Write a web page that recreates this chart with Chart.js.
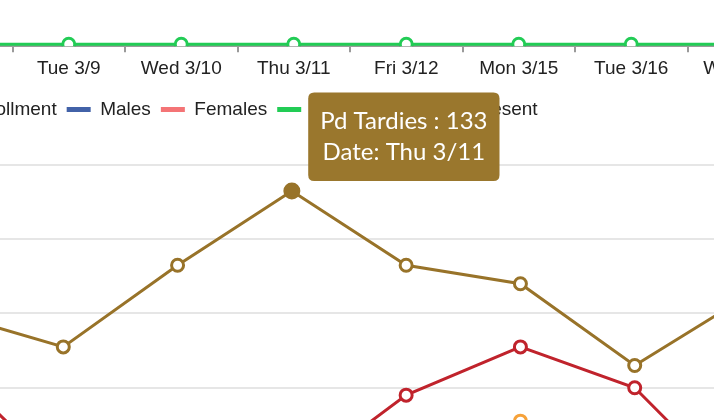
<!DOCTYPE html>
<html>
<head>
<meta charset="utf-8">
<script src="https://cdn.jsdelivr.net/npm/chart.js@4.4.1/dist/chart.umd.min.js"></script>
<style>
  html, body { margin: 0; padding: 0; background: #fff; overflow: hidden; }
  #page { position: relative; width: 714px; height: 420px; overflow: hidden; }
  #countsChart { position: absolute; left: -340px; top: -298px; }
  #tardyChart { position: absolute; left: -101px; top: 88px; }
</style>
</head>
<body>
<div id="page">
  <canvas id="countsChart" width="1150" height="427"></canvas>
  <canvas id="tardyChart" width="900" height="485"></canvas>
</div>
<script>
const days = ["Mon 3/8", "Tue 3/9", "Wed 3/10", "Thu 3/11", "Fri 3/12", "Mon 3/15", "Tue 3/16", "Wed 3/17"];

// daily counts (top chart) - only the flat green line shows in the crop
const enrollment = [612, 612, 613, 613, 613, 614, 614, 614];
const males = [311, 311, 312, 312, 312, 312, 312, 312];
const females = [301, 301, 301, 301, 301, 302, 302, 302];
const absent = [4, 4, 4, 4, 4, 4, 4, 4];
const virtualPresent = [248, 252, 245, 250, 239, 255, 247, 244];

// tardies / absences (bottom chart)
const pdTardies = [100, 91, 113, 133, 113, 108, 86, 105];
const pdAbsences = [86, 56, 60, 55, 78, 91, 80, 49];
const dailyTardies = [58, 52, 61, 64, 60, 71, 62, 55];

Chart.defaults.font.family = "'Liberation Sans', Arial, sans-serif";
Chart.defaults.font.size = 19;
Chart.defaults.color = "#222";

function lineSet(label, data, color) {
    return {
        label: label,
        data: data,
        borderColor: color,
        backgroundColor: color,
        borderWidth: 3,
        pointRadius: 6,
        pointBorderWidth: 3,
        pointBackgroundColor: "#fff",
        pointBorderColor: color,
        pointHoverRadius: 7,
        pointHoverBorderWidth: 3,
        pointHoverBackgroundColor: color,
        pointHoverBorderColor: color,
        tension: 0,
        fill: false
    };
}

new Chart(document.getElementById("countsChart"), {
    type: "line",
    data: {
        labels: days,
        datasets: [
            lineSet("Enrollment", enrollment, "#6b6b6b"),
            lineSet("Males", males, "#4262a8"),
            lineSet("Females", females, "#f47476"),
            lineSet("Absent", absent, "#22cc55"),
            lineSet("Virtual Present", virtualPresent, "#8e5ea2")
        ]
    },
    options: {
        responsive: false,
        animation: false,
        plugins: {
            legend: {
                position: "bottom",
                labels: {
                    boxWidth: 24,
                    boxHeight: 5,
                    padding: 10,
                    // flat swatches, no outline
                    generateLabels: chart => Chart.defaults.plugins.legend.labels.generateLabels(chart)
                        .map(item => ({ ...item, lineWidth: 0 }))
                }
            },
            tooltip: { enabled: false }
        },
        scales: {
            x: {
                offset: true,
                grid: { offset: true, drawOnChartArea: false, tickLength: 6, color: "#9a9a9a", lineWidth: 2 },
                border: { color: "#9a9a9a", width: 2 },
                ticks: { padding: 5 },
                afterFit: scale => { scale.height += 5; }
            },
            y: {
                min: 0,
                max: 700,
                ticks: { display: false },
                grid: { display: false },
                border: { display: false },
                afterFit: scale => { scale.width = 240; }
            }
        }
    }
});

// tooltip sits to the right of the hovered point
Chart.Tooltip.positioners.offsetRight = function (items) {
    const pos = Chart.Tooltip.positioners.average.call(this, items);
    if (!pos) return false;
    return { x: pos.x + 112, y: pos.y, xAlign: "center", yAlign: "bottom" };
};

const tardyChart = new Chart(document.getElementById("tardyChart"), {
    type: "line",
    data: {
        labels: days,
        datasets: [
            lineSet("Pd Tardies", pdTardies, "#987329"),
            lineSet("Pd Absences", pdAbsences, "#c0232c"),
            lineSet("Daily Tardies", dailyTardies, "#f6a23a")
        ]
    },
    options: {
        responsive: false,
        animation: false,
        layout: { padding: { top: 77, right: 50 } },
        plugins: {
            legend: { display: false },
            tooltip: {
                position: "offsetRight",
                backgroundColor: "#9a772d",
                cornerRadius: 6,
                caretSize: 0,
                caretPadding: 10,
                padding: { x: 12, y: 14 },
                displayColors: false,
                bodyAlign: "center",
                bodyColor: "#fff",
                bodyFont: { family: "Lato", size: 24 },
                bodySpacing: 3,
                callbacks: {
                    title: () => "",
                    label: item => [item.dataset.label + " : " + item.formattedValue, "Date: " + item.label]
                }
            }
        },
        scales: {
            x: { grid: { display: false }, border: { display: false } },
            y: {
                min: 40,
                max: 140,
                ticks: { stepSize: 20 },
                grid: { color: "#e6e6e6", lineWidth: 2 },
                border: { display: false },
                afterFit: scale => { scale.width = 50; }
            }
        }
    }
});

const hovered = [{ datasetIndex: 0, index: 3 }];
tardyChart.setActiveElements(hovered);
tardyChart.tooltip.setActiveElements(hovered, { x: 0, y: 0 });
tardyChart.update();
</script>
</body>
</html>
